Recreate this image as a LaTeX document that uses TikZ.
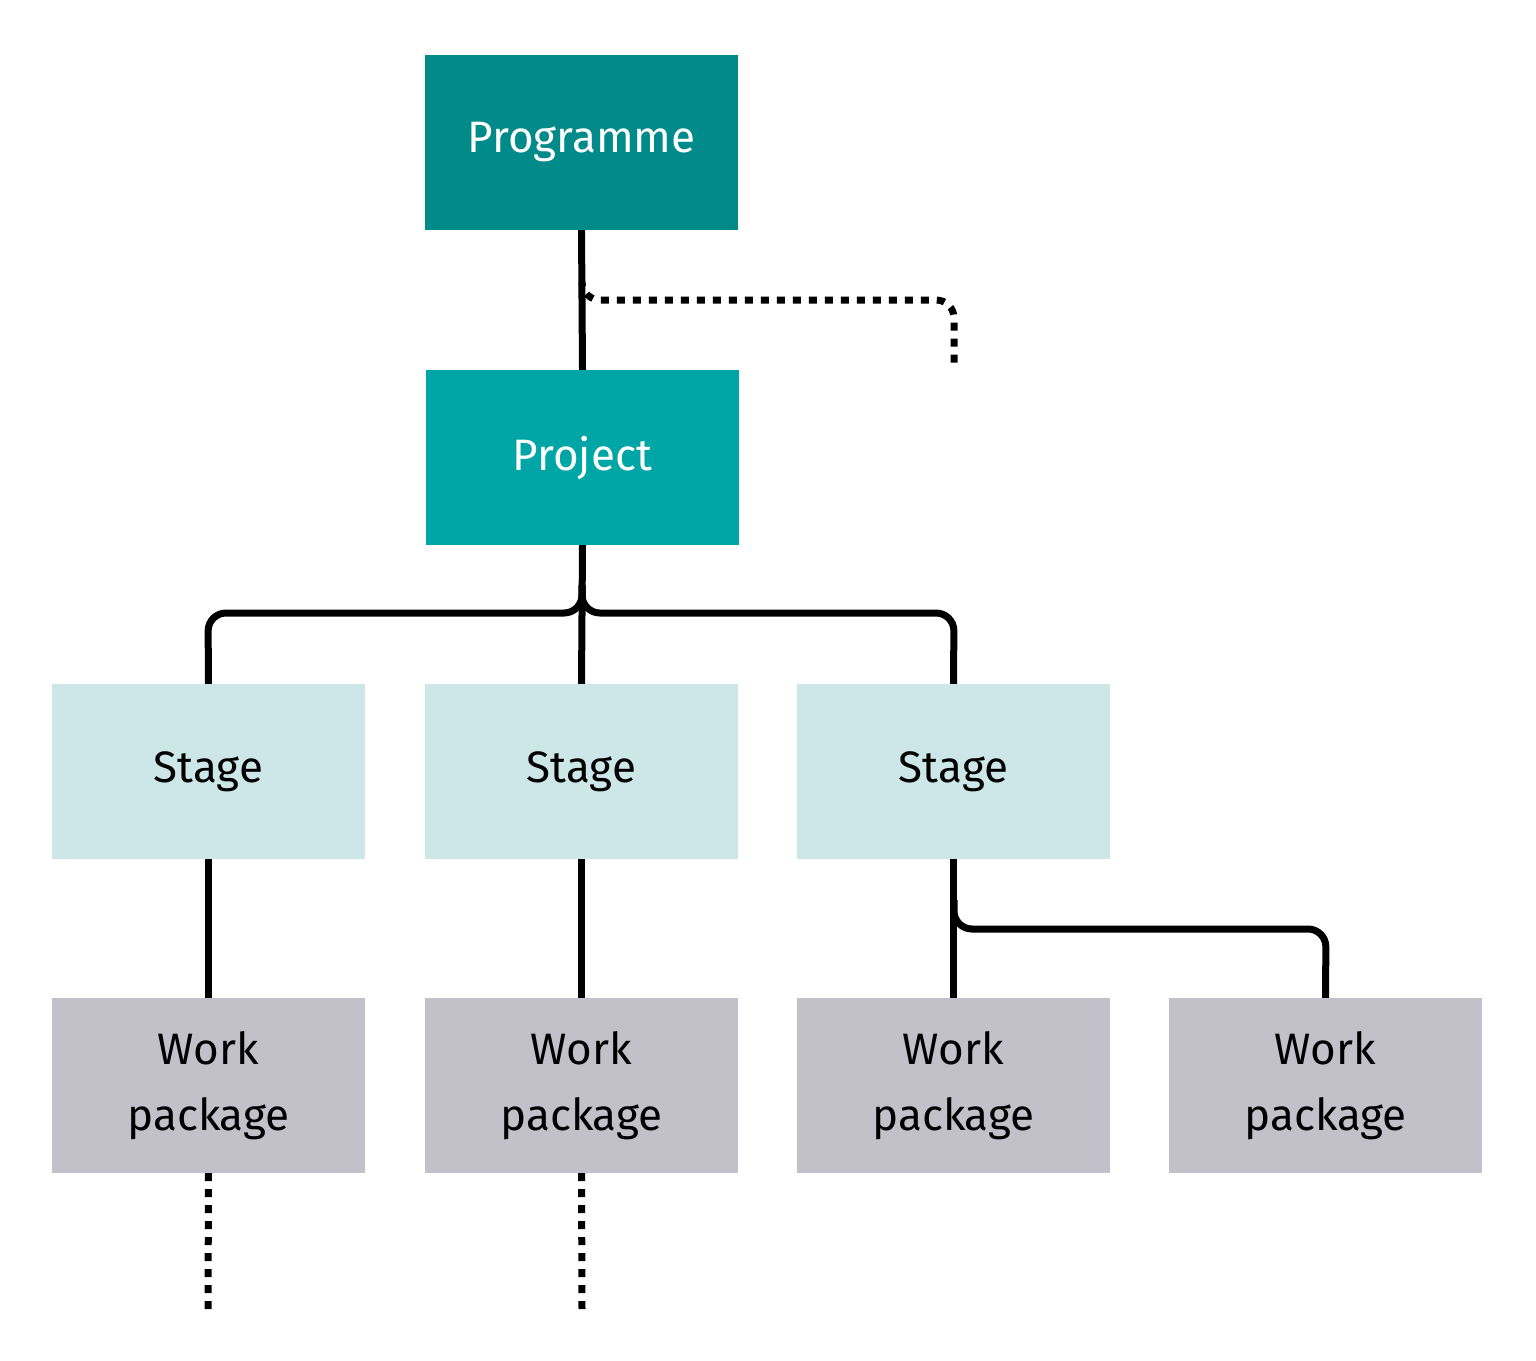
\documentclass[tikz,border=0pt]{standalone}
\usepackage{fontspec}
\setmainfont{Fira Sans}
\begin{document}
\begin{tikzpicture}[x=1pt,y=-1pt,
  box/.style={minimum width=313pt,minimum height=175pt,inner sep=0pt,align=center,font=\fontsize{44}{66}\selectfont},
  prog/.style={box,fill={rgb,255:red,0;green,139;blue,138},text=white},
  proj/.style={box,fill={rgb,255:red,0;green,165;blue,165},text=white},
  stg/.style={box,fill={rgb,255:red,205;green,231;blue,232}},
  wp/.style={box,fill={rgb,255:red,194;green,193;blue,202}},
  ln/.style={line width=7pt,rounded corners=18pt},
  dt/.style={line width=7pt,dash pattern=on 8pt off 8pt,rounded corners=18pt}]
\useasboundingbox (0,0) rectangle (1536,1360);
\node[prog] (prg) at (581.5,142.5) {Programme};
\node[proj] (prj) at (582.5,457.5) {Project};
\node[stg] (s1) at (208.5,771.5) {Stage};
\node[stg] (s2) at (581.5,771.5) {Stage};
\node[stg] (s3) at (953.5,771.5) {Stage};
\node[wp] (w1) at (208.5,1085.5) {Work\\package};
\node[wp] (w2) at (581.5,1085.5) {Work\\package};
\node[wp] (w3) at (953.5,1085.5) {Work\\package};
\node[wp] (w4) at (1325.5,1085.5) {Work\\package};
\coordinate (d1) at (954,368);
\coordinate (e1) at (208,1310);
\coordinate (e2) at (582,1310);
\draw[ln] (prg.south) -- (prj.north);
\draw[dt] (582,285) -- (582,300) -- (954,300) -- (d1);
\draw[ln] (prj.south) -- (s2.north);
\draw[ln] (582,585) -- (582,613) -- (208,613) -- (s1.north);
\draw[ln] (582,585) -- (582,613) -- (954,613) -- (s3.north);
\draw[ln] (s1.south) -- (w1.north);
\draw[ln] (s2.south) -- (w2.north);
\draw[ln] (s3.south) -- (w3.north);
\draw[ln] (954,900) -- (954,929) -- (1326,929) -- (w4.north);
\draw[dt] (w1.south) -- (e1);
\draw[dt] (w2.south) -- (e2);
\end{tikzpicture}
\end{document}
